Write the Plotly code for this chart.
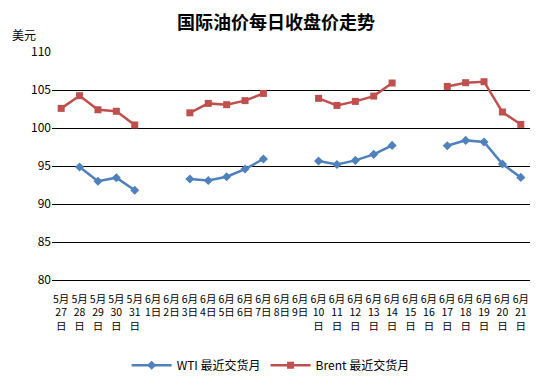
import plotly.graph_objects as go

categories = ["5/27", "5/28", "5/29", "5/30", "5/31", "6/1", "6/2", "6/3", "6/4", "6/5",
              "6/6", "6/7", "6/8", "6/9", "6/10", "6/11", "6/12", "6/13", "6/14", "6/15",
              "6/16", "6/17", "6/18", "6/19", "6/20", "6/21"]
tick_labels = ["5月<br>27<br>日", "5月<br>28<br>日", "5月<br>29<br>日", "5月<br>30<br>日", "5月<br>31<br>日",
               "6月<br>1日", "6月<br>2日", "6月<br>3日", "6月<br>4日", "6月<br>5日", "6月<br>6日",
               "6月<br>7日", "6月<br>8日", "6月<br>9日", "6月<br>10<br>日", "6月<br>11<br>日",
               "6月<br>12<br>日", "6月<br>13<br>日", "6月<br>14<br>日", "6月<br>15<br>日",
               "6月<br>16<br>日", "6月<br>17<br>日", "6月<br>18<br>日", "6月<br>19<br>日",
               "6月<br>20<br>日", "6月<br>21<br>日"]
wti = [None, 94.87, 93.0, 93.46, 91.8, None, None, 93.29, 93.1, 93.59, 94.6, 95.92, None, None,
       95.66, 95.2, 95.74, 96.53, 97.71, None, None, 97.67, 98.37, 98.16, 95.26, 93.5]
brent = [102.58, 104.25, 102.4, 102.2, 100.4, None, None, 102.0, 103.24, 103.07, 103.6, 104.55,
         None, None, 103.9, 102.97, 103.5, 104.2, 105.92, None, None, 105.47, 105.96, 106.09,
         102.1, 100.47]

font = "Noto Sans CJK SC, Arial, sans-serif"

fig = go.Figure()
fig.add_trace(go.Scatter(x=categories, y=wti, mode="lines+markers", name="WTI 最近交货月",
                         line=dict(color="#4F81BD", width=2.5),
                         marker=dict(symbol="diamond", size=7, color="#4F81BD"),
                         connectgaps=False))
fig.add_trace(go.Scatter(x=categories, y=brent, mode="lines+markers", name="Brent 最近交货月",
                         line=dict(color="#C0504D", width=2.5),
                         marker=dict(symbol="square", size=7, color="#C0504D"),
                         connectgaps=False))

fig.update_layout(
    width=536, height=376,
    margin=dict(l=44, r=14, t=44, b=104, autoexpand=False),
    paper_bgcolor="white", plot_bgcolor="white",
    font=dict(family=font, size=12, color="black"),
    title=dict(text="<b>国际油价每日收盘价走势</b>", x=0.5, xanchor="center",
               y=0.96, yanchor="middle", font=dict(size=18, color="black")),
    showlegend=True,
    legend=dict(orientation="h", xref="container", yref="container", x=0.49, xanchor="center",
                y=0.05, yanchor="middle", font=dict(size=12), itemwidth=40, tracegroupgap=0),
    xaxis=dict(type="category", tickmode="array", tickvals=categories, ticktext=tick_labels,
               range=[-0.5, len(categories) - 0.5],
               showgrid=False, showline=True, linecolor="black", linewidth=1, automargin=False,
               ticks="", tickfont=dict(size=10.5), tickangle=0, zeroline=False,
               ticklabelstandoff=9),
    yaxis=dict(range=[80, 110], dtick=5, showgrid=True, gridcolor="black", gridwidth=1,
               showline=False, ticks="", tickfont=dict(size=12), zeroline=False, automargin=False),
    annotations=[dict(text="美元", xref="paper", yref="paper", x=-0.03, y=1.03,
                      xanchor="right", yanchor="bottom", showarrow=False, font=dict(size=12))],
)

fig.write_html("out.html")
